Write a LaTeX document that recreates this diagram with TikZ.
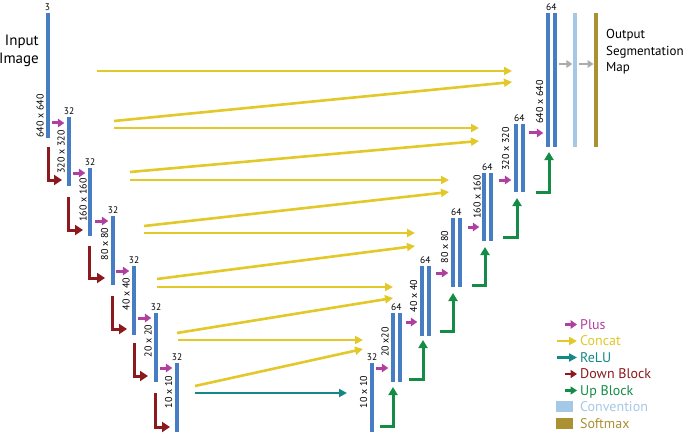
\documentclass[tikz,border=0pt]{standalone}
\usepackage{fontspec}
\setmainfont{PT Sans}
\usetikzlibrary{arrows.meta,calc}
\definecolor{barblue}{RGB}{70,125,195}
\definecolor{magc}{RGB}{176,64,160}
\definecolor{yelc}{RGB}{226,200,40}
\definecolor{tealc}{RGB}{20,135,135}
\definecolor{redc}{RGB}{140,25,30}
\definecolor{greenc}{RGB}{20,140,70}
\definecolor{lblue}{RGB}{165,200,230}
\definecolor{goldc}{RGB}{170,145,50}
\definecolor{grayc}{RGB}{172,172,172}
\begin{document}
\begin{tikzpicture}[x=1pt,y=-1pt,
  bar/.style={rectangle,fill=barblue,inner sep=0pt,minimum width=4pt,anchor=north},
  toplab/.style={font=\fontsize{9.5}{11}\selectfont,inner sep=0pt,anchor=south,yshift=2.5pt},
  sizelab/.style={font=\fontsize{10}{12}\selectfont,inner sep=0pt,rotate=90},
  plusarr/.style={draw=magc,line width=3pt,-{Triangle[length=6.5pt,width=8.5pt]},shorten >=2.5pt},
  concat/.style={draw=yelc,line width=2.6pt,-{Triangle[length=8pt,width=8pt]}},
  relu/.style={draw=tealc,line width=2.6pt,-{Triangle[length=8pt,width=8pt]}},
  downarr/.style={draw=redc,line width=3pt,-{Triangle[length=8pt,width=10pt]}},
  uparr/.style={draw=greenc,line width=3pt,-{Triangle[length=8pt,width=9pt]}},
  grayarr/.style={draw=grayc,line width=2.3pt,-{Triangle[length=6pt,width=7.5pt]}},
  legtext/.style={font=\fontsize{14}{16}\selectfont,inner sep=0pt,anchor=base west},
  bigtext/.style={inner sep=0pt,align=left}
]
\useasboundingbox (0,0) rectangle (685,433);

% ---------- encoder bars ----------
\node[bar,minimum height=125pt] (e0) at (47.5,13) {};
\node[bar,minimum height=69pt] (e1) at (69,117) {};
\node[bar,minimum height=68pt] (e2) at (90,168) {};
\node[bar,minimum height=69pt] (e3) at (113,216) {};
\node[bar,minimum height=69pt] (e4) at (134,266) {};
\node[bar,minimum height=69pt] (e5) at (156,313) {};
\node[bar,minimum height=69pt] (e6) at (177,363) {};

% ---------- decoder bars ----------
\node[bar,minimum height=69pt] (d6) at (372,363) {};
\node[bar,minimum height=69pt] (d5a) at (393,313) {};
\node[bar,minimum height=69pt] (d5b) at (399.5,313) {};
\node[bar,minimum height=70pt] (d4a) at (422,266) {};
\node[bar,minimum height=70pt] (d4b) at (428.5,266) {};
\node[bar,minimum height=69pt] (d3a) at (453,218) {};
\node[bar,minimum height=69pt] (d3b) at (459.5,218) {};
\node[bar,minimum height=68pt] (d2a) at (484,173) {};
\node[bar,minimum height=68pt] (d2b) at (490.5,173) {};
\node[bar,minimum height=68pt] (d1a) at (516,124) {};
\node[bar,minimum height=68pt] (d1b) at (522.5,124) {};
\node[bar,minimum height=134pt] (d0a) at (548,13) {};
\node[bar,minimum height=134pt] (d0b) at (554.5,13) {};
\node[bar,fill=lblue,minimum width=4.8pt,minimum height=134pt] (conv) at (575,13) {};
\node[bar,fill=goldc,minimum width=4.5pt,minimum height=134pt] (soft) at (596,13) {};

% ---------- channel labels ----------
\node[toplab] (c0) at (e0.north) {3};
\node[toplab] (c1) at (e1.north) {32};
\node[toplab] (c2) at (e2.north) {32};
\node[toplab] (c3) at (e3.north) {32};
\node[toplab] (c4) at (e4.north) {32};
\node[toplab] (c5) at (e5.north) {32};
\node[toplab] (c6) at (e6.north) {32};
\node[toplab] (cd6) at (d6.north) {32};
\node[toplab] (cd5) at ($(d5a.north)!.5!(d5b.north)$) {64};
\node[toplab] (cd4) at ($(d4a.north)!.5!(d4b.north)$) {64};
\node[toplab] (cd3) at ($(d3a.north)!.5!(d3b.north)$) {64};
\node[toplab] (cd2) at ($(d2a.north)!.5!(d2b.north)$) {64};
\node[toplab] (cd1) at ($(d1a.north)!.5!(d1b.north)$) {64};
\node[toplab] (cd0) at ($(d0a.north)!.5!(d0b.north)$) {64};

% ---------- size labels ----------
\node[sizelab] (s0) at (40,116) {640 x 640};
\node[sizelab] (s1) at (61,152) {320 x 320};
\node[sizelab] (s2) at (83,200) {160 x 160};
\node[sizelab] (s3) at (104.5,244) {80 x 80};
\node[sizelab] (s4) at (126,294) {40 x 40};
\node[sizelab] (s5) at (148,341) {20 x 20};
\node[sizelab] (s6) at (168.5,392) {10 x 10};
\node[sizelab] (sd6) at (363.5,392) {10 x 10};
\node[sizelab] (sd5) at (385,342) {20 x20};
\node[sizelab] (sd4) at (413.5,296) {40 x 40};
\node[sizelab] (sd3) at (444.5,247) {80 x 80};
\node[sizelab] (sd2) at (477,197) {160 x 160};
\node[sizelab] (sd1) at (505.5,149) {320 x 320};
\node[sizelab] (sd0) at (539.5,102) {640 x 640};

% ---------- big texts ----------
\node[bigtext,align=right,anchor=north east,font=\fontsize{15}{18}\selectfont] (inp) at (39,35) {Input\\Image};
\node[bigtext,anchor=north west,font=\fontsize{13}{16.5}\selectfont] (outp) at (606,29.5) {Output\\Segmentation\\Map};

% ---------- plus arrows ----------
\foreach \n/\x/\y/\t in {1/52/123/e1, 2/73/173/e2, 3/95/221/e3, 4/116/271/e4, 5/138/318/e5, 6/160/368/e6,
  7/376/368/d5a, 8/406/322/d4a, 9/436/273/d3a, 10/468/227/d2a, 11/499/180/d1a, 12/529/133/d0a}{
  \coordinate (ps\n) at (\x,\y);
  \draw[plusarr] (ps\n) -- (ps\n -| \t.west);
}

% ---------- concat arrows ----------
\foreach \n/\xa/\ya/\xb/\yb in {A/97/71/512/71, B/114/121/512/82, C/114/128/479/128, D/130/172/479/141,
  E/130/180/449/180, F/144/226/449/192, G/144/233/415/233, H/157/279/415/246,
  I/157/287/393/287, J/177/333/393/298, K/178/340/363/340, L/195/386/363/349}{
  \coordinate (ys\n) at (\xa,\ya);
  \coordinate (ye\n) at (\xb,\yb);
  \draw[concat] (ys\n) -- (ye\n);
}

% ---------- ReLU ----------
\coordinate (rs) at (195,393);
\coordinate (re) at (347,393);
\draw[relu] (rs) -- (re);

% ---------- down blocks ----------
\foreach \n/\xa/\ya/\xb/\yb in {1/48/147/62/180, 2/68/197/83/230, 3/89/246/105/278,
  4/112/296/127/329, 5/134/343/148/376, 6/155/393/170/427}{
  \coordinate (ds\n) at (\xa,\ya);
  \coordinate (de\n) at (\xb,\yb);
  \draw[downarr] (ds\n) |- (de\n);
}

% ---------- up blocks ----------
\foreach \n/\xa/\ya/\xb/\yb in {5/380/426/393/387, 4/409/379/423/340, 3/440/331/453/293,
  2/472/285/485/247, 1/503/237/517/198, 0/536/192/549/152}{
  \coordinate (us\n) at (\xa,\ya);
  \coordinate (ue\n) at (\xb,\yb);
  \draw[uparr] (us\n) -| (ue\n);
}

% ---------- gray arrows ----------
\coordinate (g1s) at (559,64);
\coordinate (g2s) at (579,64);
\draw[grayarr] (g1s) -- (g1s -| conv.west);
\draw[grayarr] (g2s) -- (g2s -| soft.west);

% ---------- legend ----------
\node[legtext,text=magc] (lg1) at (580,329) {Plus};
\node[legtext,text=yelc] (lg2) at (580,345.5) {Concat};
\node[legtext,text=tealc] (lg3) at (580,362) {ReLU};
\node[legtext,text=redc] (lg4) at (580,378.5) {Down Block};
\node[legtext,text=greenc] (lg5) at (580,395) {Up Block};
\node[legtext,text=lblue] (lg6) at (580,411.5) {Convention};
\node[legtext,text=goldc] (lg7) at (580,428) {Softmax};
\coordinate (la1) at (565,324.5);
\coordinate (la2) at (557,341);
\coordinate (la3) at (557,357.5);
\coordinate (la4) at (565,374);
\coordinate (la5) at (565,390.5);
\draw[plusarr,shorten >=3pt,line width=2.6pt] (la1) -- (la1 -| lg1.west);
\draw[concat,shorten >=3pt] (la2) -- (la2 -| lg2.west);
\draw[relu,shorten >=3pt] (la3) -- (la3 -| lg3.west);
\draw[downarr,shorten >=3pt,line width=2.6pt,-{Triangle[length=6.5pt,width=8pt]}] (la4) -- (la4 -| lg4.west);
\draw[uparr,shorten >=3pt,line width=2.6pt,-{Triangle[length=6.5pt,width=8pt]}] (la5) -- (la5 -| lg5.west);
\node[rectangle,fill=lblue,inner sep=0pt,minimum width=17pt,minimum height=11pt] (lr6) at (564.5,406.5) {};
\node[rectangle,fill=goldc,inner sep=0pt,minimum width=17pt,minimum height=11pt] (lr7) at (564.5,423) {};
\end{tikzpicture}
\end{document}
